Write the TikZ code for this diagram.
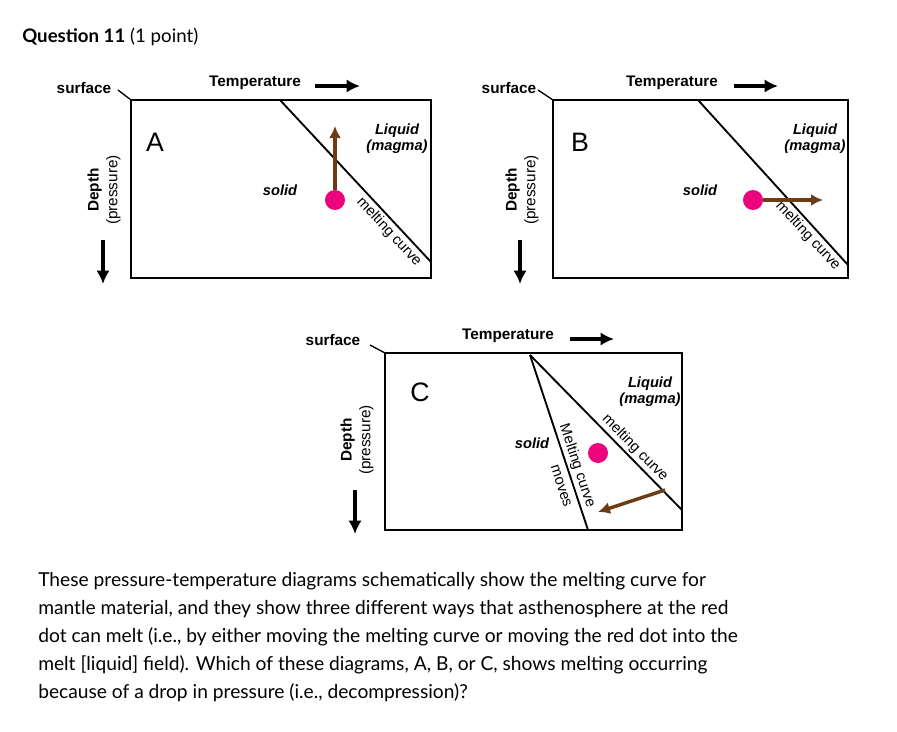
\documentclass[tikz,border=0pt]{standalone}
\usepackage{fontspec}
\usetikzlibrary{arrows.meta}
\setmainfont{Lato}
\newfontfamily\ar{Liberation Sans}
\begin{document}
\begin{tikzpicture}[x=0.75pt,y=-0.75pt,
 lab/.style={font=\ar\bfseries\fontsize{11.5}{13}\selectfont, inner sep=0pt},
 ital/.style={font=\ar\bfseries\itshape\fontsize{11}{12}\selectfont, inner sep=0pt, align=center},
 mc/.style={font=\ar\fontsize{11}{12}\selectfont, inner sep=0pt},
 dep/.style={rotate=90, align=center, inner sep=0pt, font=\ar\fontsize{11.5}{14}\selectfont},
 box/.style={line width=1.6pt},
 big/.style={font=\ar\fontsize{20}{22}\selectfont, inner sep=0pt},
 dot/.style={circle, fill=magenta!85!red, minimum size=15pt, inner sep=0pt},
 brn/.style={draw={rgb,255:red,110;green,60;blue,20}, line width=2.6pt, -{Latex[length=9pt,width=9pt]}},
 blk/.style={line width=2.8pt, -{Latex[length=10pt,width=10pt]}}]
\useasboundingbox (0,0) rectangle (897,732);
\fill[white] (0,0) rectangle (897,732);
\node[anchor=west, inner sep=0pt, font=\fontsize{14}{16}\selectfont] (q) at (22,37) {\textbf{Question 11} (1 point)};
% ---- A
\draw[box] (131,100) rectangle (431,278);
\coordinate (a1) at (280,100); \coordinate (a2) at (431,262);
\draw[line width=1.4pt] (a1) -- (a2);
\node[lab] (as) at (84,88) {surface};
\coordinate (at1) at (118,90); \coordinate (at2) at (131,100);
\draw[line width=1pt] (at1) -- (at2);
\node[lab] (aT) at (255,83) {Temperature};
\coordinate (ta1) at (315,86); \coordinate (ta2) at (360,86);
\draw[blk] (ta1) -- (ta2);
\node[big] (aA) at (155,142) {A};
\node[dep] (ad) at (104,190) {\textbf{Depth}\\(pressure)};
\coordinate (ad1) at (103,240); \coordinate (ad2) at (103,284);
\draw[blk] (ad1) -- (ad2);
\node[dot] (adot) at (335,200) {};
\coordinate (aup) at (335,126);
\draw[brn] (adot) -- (aup);
\node[ital] (asol) at (280,190) {solid};
\node[ital] (aliq) at (397,139) {Liquid\\(magma)};
\node[mc, rotate=-47] (amc) at (389,232) {melting curve};
% ---- B
\draw[box] (553,100) rectangle (848,278);
\coordinate (b1) at (698,100); \coordinate (b2) at (848,265);
\draw[line width=1.4pt] (b1) -- (b2);
\node[lab] (bs) at (509,88) {surface};
\coordinate (bt1) at (538,90); \coordinate (bt2) at (553,100);
\draw[line width=1pt] (bt1) -- (bt2);
\node[lab] (bT) at (672,83) {Temperature};
\coordinate (tb1) at (734,86); \coordinate (tb2) at (778,86);
\draw[blk] (tb1) -- (tb2);
\node[big] (bB) at (580,142) {B};
\node[dep] (bd) at (522,190) {\textbf{Depth}\\(pressure)};
\coordinate (bd1) at (520,240); \coordinate (bd2) at (520,284);
\draw[blk] (bd1) -- (bd2);
\node[dot] (bdot) at (753,200) {};
\coordinate (brt) at (823,200);
\draw[brn] (bdot) -- (brt);
\node[ital] (bsol) at (700,190) {solid};
\node[ital] (bliq) at (815,139) {Liquid\\(magma)};
\node[mc, rotate=-47] (bmc) at (808,236) {melting curve};
% ---- C
\draw[box] (385,353) rectangle (682,530);
\coordinate (c1) at (530,355); \coordinate (c2) at (682,510); \coordinate (c3) at (588,530);
\draw[line width=1.4pt] (c1) -- (c2);
\draw[line width=1.4pt] (c1) -- (c3);
\node[lab] (cs) at (333,340) {surface};
\coordinate (ct1) at (370,345); \coordinate (ct2) at (385,353);
\draw[line width=1pt] (ct1) -- (ct2);
\node[lab] (cT) at (508,336) {Temperature};
\coordinate (tc1) at (570,339); \coordinate (tc2) at (614,339);
\draw[blk] (tc1) -- (tc2);
\node[big] (cC) at (420,392) {C};
\node[dep] (cd) at (357,440) {\textbf{Depth}\\(pressure)};
\coordinate (cd1) at (355,490); \coordinate (cd2) at (355,534);
\draw[blk] (cd1) -- (cd2);
\node[dot] (cdot) at (598,453) {};
\coordinate (ca1) at (665,490); \coordinate (ca2) at (598,512);
\draw[brn] (ca1) -- (ca2);
\node[ital] (csol) at (532,443) {solid};
\node[ital] (cliq) at (650,392) {Liquid\\(magma)};
\node[mc, rotate=-45.6] (cmc) at (635,448) {melting curve};
\node[mc, rotate=-71.7] (cmv) at (577,466) {Melting curve};
\node[mc, rotate=-71.7] (cmv2) at (561,486) {moves};
% ---- paragraph
\node[anchor=north west, inner sep=0pt, align=left, font=\fontsize{14.4}{21}\selectfont] (p) at (38,572)
{These pressure-temperature diagrams schematically show the melting curve for\\
mantle material, and they show three different ways that asthenosphere at the red\\
dot can melt (i.e., by either moving the melting curve or moving the red dot into the\\
melt [liquid] field). Which of these diagrams, A, B, or C, shows melting occurring\\
because of a drop in pressure (i.e., decompression)?};
\end{tikzpicture}
\end{document}
